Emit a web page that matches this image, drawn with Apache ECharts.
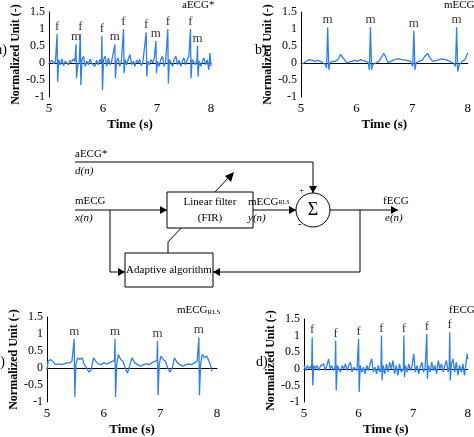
<!DOCTYPE html>
<html><head><meta charset="utf-8">
<script src="https://cdn.jsdelivr.net/npm/echarts@6/dist/echarts.min.js"></script>
<style>html,body{margin:0;padding:0;background:#fff}#c{width:474px;height:437px}</style>
</head><body><div id="c"></div>
<script>
const aECG=[[5.00,0],[5.03,-0.05],[5.06,0.08],[5.09,-0.03],[5.12,0.05],[5.14,0],[5.15,0.85],[5.16,-0.55],[5.18,0.1],[5.21,-0.05],[5.24,0.12],[5.27,-0.08],[5.30,0.05],[5.33,0.1],[5.36,-0.05],[5.39,0.08],[5.42,0.02],[5.45,0.12],[5.48,0.05],[5.50,0.55],[5.51,-0.45],[5.53,-0.1],[5.56,0.05],[5.58,0.85],[5.59,-0.65],[5.61,0.1],[5.64,0.2],[5.67,-0.1],[5.70,0.05],[5.73,-0.05],[5.76,0.12],[5.79,0],[5.82,0.05],[5.85,-0.1],[5.88,0.08],[5.91,-0.05],[5.94,0.1],[5.97,0],[5.98,0.8],[5.99,-0.8],[6.01,0.1],[6.04,0.2],[6.07,-0.1],[6.10,0.15],[6.13,-0.05],[6.16,0.05],[6.19,0.1],[6.22,0.55],[6.23,-0.45],[6.25,0.05],[6.28,0.15],[6.31,-0.1],[6.34,0.05],[6.37,0],[6.38,1.0],[6.39,-0.3],[6.41,0.1],[6.44,-0.05],[6.47,0.12],[6.50,0.25],[6.53,-0.05],[6.56,0.05],[6.59,-0.1],[6.62,0.08],[6.65,0],[6.68,0.1],[6.71,-0.08],[6.74,0.05],[6.77,0],[6.80,0.9],[6.81,-0.4],[6.83,0.05],[6.86,-0.05],[6.89,0.1],[6.92,0],[6.95,0.15],[6.98,0.65],[6.99,-0.3],[7.01,0.05],[7.04,-0.1],[7.07,0.1],[7.10,0.2],[7.13,-0.1],[7.16,0.05],[7.19,0],[7.20,1.0],[7.21,-0.6],[7.23,0.1],[7.26,0.05],[7.29,-0.1],[7.32,0.12],[7.35,0.2],[7.38,-0.05],[7.41,0.08],[7.44,-0.1],[7.47,0.05],[7.50,0.15],[7.53,-0.05],[7.56,0.1],[7.59,0.2],[7.62,1.0],[7.63,-0.45],[7.65,0.1],[7.68,0.15],[7.71,-0.05],[7.74,0.1],[7.75,0.5],[7.76,-0.4],[7.78,0.05],[7.81,-0.1],[7.84,0.05],[7.87,0.15],[7.90,-0.05],[7.93,0.1],[7.96,-0.2],[7.98,0.3],[8.0,-0.1]];
const aMarks=[[5.15,0.85,'f'],[5.50,0.55,'m'],[5.58,0.85,'f'],[5.98,0.8,'f'],[6.22,0.55,'m'],[6.38,1.0,'f'],[6.80,0.9,'f'],[6.98,0.65,'m'],[7.20,1.0,'f'],[7.62,1.0,'f'],[7.75,0.5,'m']];
const mECG=[[5.00,-0.05],[5.05,0],[5.10,0.05],[5.15,0.1],[5.20,0.08],[5.25,0.05],[5.30,0.08],[5.35,0.05],[5.40,0],[5.44,-0.05],[5.46,-0.15],[5.48,1.05],[5.50,-0.2],[5.52,0],[5.56,0.05],[5.62,0.05],[5.67,0.12],[5.71,0.25],[5.74,0.27],[5.78,0.1],[5.82,0],[5.87,0.03],[5.92,0.05],[5.97,0.08],[6.02,0.05],[6.07,0.1],[6.12,0.07],[6.17,0.05],[6.21,0],[6.23,-0.2],[6.25,1.05],[6.27,-0.2],[6.29,-0.05],[6.34,0],[6.40,0.05],[6.45,0.18],[6.49,0.28],[6.52,0.2],[6.56,0.02],[6.62,0.05],[6.68,0.1],[6.75,0.12],[6.82,0.1],[6.90,0.08],[6.97,0.05],[7.01,-0.1],[7.03,0.95],[7.05,-0.2],[7.07,0],[7.12,0.05],[7.18,0.08],[7.23,0.2],[7.28,0.28],[7.32,0.15],[7.37,0.05],[7.45,0.08],[7.52,0.12],[7.60,0.1],[7.68,0.05],[7.74,0],[7.78,-0.1],[7.80,1.05],[7.82,-0.25],[7.85,-0.05],[7.90,0.05],[7.95,0.1],[8.0,0.3]];
const mMarks=[[5.48,1.05,'m'],[6.25,1.05,'m'],[7.03,0.95,'m'],[7.80,1.05,'m']];
const rlsECG=[[5.00,-0.05],[5.02,0.2],[5.06,0.25],[5.10,0.2],[5.15,0.1],[5.20,0.12],[5.25,0.1],[5.30,0.12],[5.35,0.15],[5.40,0.15],[5.44,0.2],[5.47,0.2],[5.48,0.85],[5.49,-0.85],[5.51,0.1],[5.54,0.3],[5.58,0.25],[5.62,0.3],[5.66,0.1],[5.70,0],[5.74,-0.12],[5.78,-0.05],[5.82,0.3],[5.86,0.2],[5.90,0.12],[5.95,0.1],[6.00,0.15],[6.05,0.12],[6.10,0.15],[6.15,0.2],[6.19,0.2],[6.20,0.85],[6.21,-0.85],[6.23,0.1],[6.26,0.4],[6.30,0.25],[6.34,0.2],[6.38,0],[6.42,-0.15],[6.45,-0.1],[6.50,0.3],[6.55,0.15],[6.60,0.1],[6.65,0.05],[6.70,0.1],[6.75,0.12],[6.80,0.1],[6.85,0.15],[6.90,0.2],[6.94,0.2],[6.95,0.8],[6.96,-0.8],[6.98,0.1],[7.01,0.35],[7.05,0.25],[7.09,0.2],[7.13,0],[7.17,-0.12],[7.21,0],[7.25,0.3],[7.30,0.15],[7.35,0.1],[7.40,0.05],[7.45,0.1],[7.50,0.12],[7.55,0.1],[7.60,0.15],[7.65,0.2],[7.67,0.2],[7.68,0.9],[7.69,-0.8],[7.71,0.1],[7.74,0.4],[7.78,0.3],[7.82,0.35],[7.86,0.2],[7.89,0.05],[7.91,-0.1]];
const rlsMarks=[[5.48,0.85,'m'],[6.20,0.85,'m'],[6.95,0.8,'m'],[7.68,0.9,'m']];
const fECG=[[5.00,0.1],[5.03,-0.05],[5.06,0.1],[5.09,0],[5.12,0.08],[5.14,0],[5.15,0.95],[5.16,-0.5],[5.18,0.1],[5.21,0],[5.24,0.1],[5.27,-0.05],[5.30,0.08],[5.33,0.02],[5.36,0.15],[5.39,-0.05],[5.42,0.1],[5.45,0.3],[5.48,0],[5.51,0.1],[5.54,-0.05],[5.57,0.05],[5.58,0.85],[5.59,-0.65],[5.61,0.1],[5.64,0.05],[5.67,-0.1],[5.70,0.1],[5.73,0],[5.76,0.15],[5.79,-0.05],[5.82,0.1],[5.85,0.2],[5.88,-0.1],[5.91,0.05],[5.94,0.1],[5.97,-0.05],[5.99,0],[6.00,0.9],[6.01,-0.7],[6.03,0.1],[6.06,-0.1],[6.09,0.05],[6.12,-0.15],[6.15,0.1],[6.18,-0.05],[6.21,0.15],[6.24,0.3],[6.27,-0.1],[6.30,0.05],[6.33,-0.15],[6.36,0.1],[6.39,-0.1],[6.41,0],[6.42,1.0],[6.43,-0.35],[6.45,0.1],[6.48,-0.15],[6.51,0.15],[6.54,-0.1],[6.57,0.2],[6.60,0],[6.63,0.25],[6.66,-0.15],[6.69,0.1],[6.72,-0.2],[6.75,0.15],[6.78,-0.1],[6.82,0],[6.83,1.0],[6.84,-0.25],[6.86,0.1],[6.89,-0.1],[6.92,0.15],[6.95,-0.05],[6.98,0.1],[7.01,0.45],[7.04,-0.1],[7.07,0.1],[7.10,-0.15],[7.13,0.05],[7.16,0.2],[7.19,-0.1],[7.22,0.05],[7.24,0],[7.25,1.05],[7.26,-0.3],[7.28,0.1],[7.31,-0.1],[7.34,0.2],[7.37,-0.05],[7.40,0.1],[7.43,-0.15],[7.46,0.25],[7.49,0],[7.52,0.15],[7.55,-0.1],[7.58,0.1],[7.61,0.25],[7.64,-0.1],[7.66,0.05],[7.67,1.1],[7.68,-0.35],[7.70,0.15],[7.73,0.3],[7.76,-0.1],[7.79,0.2],[7.82,-0.2],[7.85,0.1],[7.88,-0.1],[7.91,0.15],[7.94,-0.2],[7.97,0.2],[7.99,0.45],[8.0,0.3]];
const fMarks=[[5.15,0.95,'f'],[5.58,0.85,'f'],[6.00,0.9,'f'],[6.42,1.0,'f'],[6.83,1.0,'f'],[7.25,1.05,'f'],[7.67,1.1,'f']];
const xTicks=[5,6,7,8];
const yTicks=[-1,-0.5,0,0.5,1,1.5];

const font='Liberation Serif';
const col='#2f7fe6';
const grids=[{left:49,top:12,width:162,height:85},{left:301,top:12,width:167,height:85},{left:47,top:317,width:170,height:90},{left:304,top:319,width:166,height:87}];
const sets=[[aECG,aMarks],[mECG,mMarks],[rlsECG,rlsMarks],[fECG,fMarks]];
const xAxis=grids.map((g,i)=>({gridIndex:i,type:'value',min:xTicks[0],max:xTicks[xTicks.length-1],interval:1,
  axisLine:{lineStyle:{color:'#000'}},axisTick:{show:false},splitLine:{show:false},
  axisLabel:{color:'#000',fontFamily:font,fontSize:13,margin:5},
  name:'Time (s)',nameLocation:'middle',nameGap:21,nameTextStyle:{fontFamily:font,fontWeight:'bold',fontSize:13,color:'#000'}}));
const yAxis=grids.map((g,i)=>({gridIndex:i,type:'value',min:yTicks[0],max:yTicks[yTicks.length-1],interval:0.5,
  axisLine:{show:true,lineStyle:{color:'#000'}},axisTick:{show:false},splitLine:{show:false},
  axisLabel:{color:'#000',fontFamily:font,fontSize:12,margin:4},
  name:'Normalized Unit (-)',nameLocation:'middle',nameGap:25,nameTextStyle:{fontFamily:font,fontWeight:'bold',fontSize:12,color:'#000'}}));
const series=[];
sets.forEach((s,i)=>{
  series.push({type:'line',xAxisIndex:i,yAxisIndex:i,data:s[0],showSymbol:false,lineStyle:{color:col,width:1.3},silent:true});
  series.push({type:'scatter',xAxisIndex:i,yAxisIndex:i,data:s[1],symbolSize:0,
    label:{show:true,position:'top',distance:1,formatter:p=>p.data[2],fontFamily:font,fontSize:13,color:'#000'}});
});
const T=(x,y,t,o)=>Object.assign({type:'text',x,y,style:Object.assign({text:t,fontFamily:font,fontSize:11,fill:'#000'},o||{})});
const L=(x1,y1,x2,y2)=>({type:'line',shape:{x1,y1,x2,y2},style:{stroke:'#000',lineWidth:1}});
const A=(x,y,dir)=>{const s=4;let pts;
  if(dir==='r')pts=[[x,y],[x-7,y-s],[x-7,y+s]];else if(dir==='l')pts=[[x,y],[x+7,y-s],[x+7,y+s]];
  else if(dir==='d')pts=[[x,y],[x-s,y-7],[x+s,y-7]];else pts=dir;
  return {type:'polygon',shape:{points:pts},style:{fill:'#000'}};};
const graphic=[
  T(-4,43,'a)',{fontSize:14}),T(255,43,'b)',{fontSize:14}),T(-6,355,'c)',{fontSize:14}),T(256,355,'d)',{fontSize:14}),
  T(182,0,'aECG*',{fontSize:11}),T(444,0,'mECG',{fontSize:11}),
  {type:'text',x:177,y:305,style:{text:'mECG{s|RLS}',fontFamily:font,fontSize:11,fill:'#000',rich:{s:{fontSize:7,verticalAlign:'bottom',padding:[4,0,0,0],fontFamily:font}}}},
  T(449,305,'fECG',{fontSize:11}),
  L(75,162,313,162),L(313,162,313,193),A(313,193,'d'),
  T(75,149,'aECG*'),T(75,166,'d(n)',{fontStyle:'italic'}),
  L(75,210,167,210),A(167,210,'r'),T(75,196,'mECG'),T(75,213,'x(n)',{fontStyle:'italic'}),
  L(110,210,110,272),L(110,272,125,272),A(125,272,'r'),
  L(168,253,168,242),L(168,242,230,176),A(0,0,[[234,172],[225,176],[231,182]]),
  {type:'rect',shape:{x:167,y:192,width:86,height:36},style:{fill:'#fff',stroke:'#000',lineWidth:1}},
  T(210,197,'Linear filter',{align:'center'}),T(210,213,'(FIR)',{align:'center'}),
  {type:'rect',shape:{x:125,y:253,width:88,height:34},style:{fill:'#fff',stroke:'#000',lineWidth:1}},
  T(169,265,'Adaptive algorithm',{align:'center'}),
  L(253,210,296,210),A(296,210,'r'),
  {type:'text',x:248,y:197,style:{text:'mECG{s|RLS}',fontFamily:font,fontSize:11,fill:'#000',rich:{s:{fontSize:6,fontFamily:font}}}},
  T(248,213,'y(n)',{fontStyle:'italic'}),
  {type:'circle',shape:{cx:313,cy:210,r:17},style:{fill:'#fff',stroke:'#000',lineWidth:1}},
  T(313,201,'Σ',{align:'center',fontSize:18}),T(299,186,'+',{fontSize:9}),T(298,219,'-',{fontSize:11}),
  L(330,210,398,210),A(398,210,'r'),T(383,196,'fECG'),T(385,213,'e(n)',{fontStyle:'italic'}),
  L(360,210,360,272),L(360,272,213,272),A(213,272,'l')
];
const chart=echarts.init(document.getElementById('c'));
chart.setOption({animation:false,grid:grids,xAxis,yAxis,series,graphic});
</script></body></html>
